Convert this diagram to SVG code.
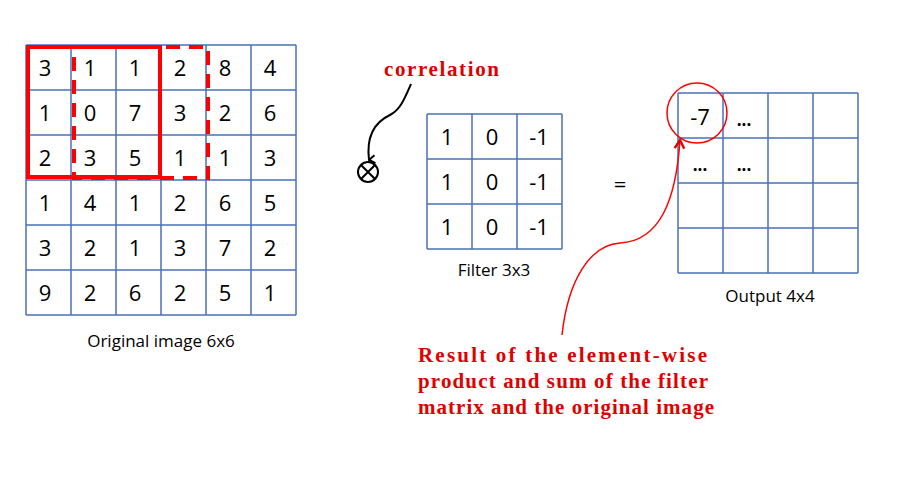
<svg xmlns="http://www.w3.org/2000/svg" width="900" height="480" viewBox="0 0 900 480">
<style>
.g{fill:none;stroke:#4a72b8;stroke-width:1.5}
.n{font-family:"Open Sans","DejaVu Sans",sans-serif;font-size:22px;fill:#000;text-anchor:middle}
.c{font-family:"Open Sans","DejaVu Sans",sans-serif;font-size:17px;fill:#000;text-anchor:middle}
.r{font-family:"Liberation Serif",serif;font-size:21px;fill:#e00000;font-weight:bold}
</style>
<defs>
<marker id="ab" viewBox="0 0 10 10" refX="5" refY="9" markerWidth="10" markerHeight="10" orient="auto-start-reverse" markerUnits="userSpaceOnUse"><path d="M1,3 L5,9 L9,3" fill="none" stroke="#000" stroke-width="2"/></marker>
<marker id="ar" viewBox="0 0 10 10" refX="9" refY="5" markerWidth="12" markerHeight="12" orient="auto" markerUnits="userSpaceOnUse"><path d="M2,1 L9,5 L2,9" fill="none" stroke="#e00000" stroke-width="2"/></marker>
</defs>
<rect width="900" height="480" fill="#fff"/>
<g id="image">
<path class="g" d="M26,45H296M26,90H296M26,135H296M26,180H296M26,225H296M26,270H296M26,315H296M26,45V315M71,45V315M116,45V315M161,45V315M206,45V315M251,45V315M296,45V315"/>
<g class="n">
<text x="45" y="76">3</text><text x="90" y="76">1</text><text x="135" y="76">1</text><text x="180" y="76">2</text><text x="225" y="76">8</text><text x="270" y="76">4</text>
<text x="45" y="121">1</text><text x="90" y="121">0</text><text x="135" y="121">7</text><text x="180" y="121">3</text><text x="225" y="121">2</text><text x="270" y="121">6</text>
<text x="45" y="166">2</text><text x="90" y="166">3</text><text x="135" y="166">5</text><text x="180" y="166">1</text><text x="225" y="166">1</text><text x="270" y="166">3</text>
<text x="45" y="211">1</text><text x="90" y="211">4</text><text x="135" y="211">1</text><text x="180" y="211">2</text><text x="225" y="211">6</text><text x="270" y="211">5</text>
<text x="45" y="256">3</text><text x="90" y="256">2</text><text x="135" y="256">1</text><text x="180" y="256">3</text><text x="225" y="256">7</text><text x="270" y="256">2</text>
<text x="45" y="301">9</text><text x="90" y="301">2</text><text x="135" y="301">6</text><text x="180" y="301">2</text><text x="225" y="301">5</text><text x="270" y="301">1</text>
</g>
<rect x="28" y="47" width="132" height="130" fill="none" stroke="#f00" stroke-width="4"/>
<rect x="74" y="47" width="134" height="131" fill="none" stroke="#f00" stroke-width="4" stroke-dasharray="14,9"/>
<text class="c" x="161" y="347">Original image 6x6</text>
</g>
<g id="operator">
<text class="r" x="384" y="76" font-size="23" textLength="115">correlation</text>
<circle cx="368" cy="172" r="10" fill="none" stroke="#000" stroke-width="2"/>
<path d="M361,165L375,179M375,165L361,179" stroke="#000" stroke-width="2"/>
<text class="n" x="620" y="192">=</text>
</g>
<g id="filter">
<path class="g" d="M427,114H562M427,159H562M427,204H562M427,249H562M427,114V249M472,114V249M517,114V249M562,114V249"/>
<g class="n">
<text x="447" y="145">1</text><text x="492" y="145">0</text><text x="539" y="145">-1</text>
<text x="447" y="190">1</text><text x="492" y="190">0</text><text x="539" y="190">-1</text>
<text x="447" y="235">1</text><text x="492" y="235">0</text><text x="539" y="235">-1</text>
</g>
<text class="c" x="494" y="276">Filter 3x3</text>
</g>
<g id="output">
<path class="g" d="M678,93H858M678,138H858M678,183H858M678,228H858M678,273H858M678,93V273M723,93V273M768,93V273M813,93V273M858,93V273"/>
<g class="n"><text x="700" y="125">-7</text></g>
<g class="c" font-weight="bold"><text x="744" y="126">...</text><text x="700" y="171">...</text><text x="744" y="171">...</text></g>
<circle cx="697" cy="113" r="30" fill="none" stroke="#f00" stroke-width="1.5"/>
<text class="c" x="770" y="302">Output 4x4</text>
</g>
<g id="connectors">
<path d="M411,84C404,100 400,110 390,115C375,122 366,135 369,160" fill="none" stroke="#000" stroke-width="2" marker-end="url(#ab)"/>
<path d="M562,335C568,280 590,245 620,243C660,241 676,200 680,140" fill="none" stroke="#f00" stroke-width="1.5" marker-end="url(#ar)"/>
</g>
<g id="note" class="r">
<text x="418" y="362" textLength="289">Result of the element-wise</text>
<text x="418" y="388" textLength="290">product and sum of the filter</text>
<text x="418" y="414" textLength="296">matrix and the original image</text>
</g>
</svg>
